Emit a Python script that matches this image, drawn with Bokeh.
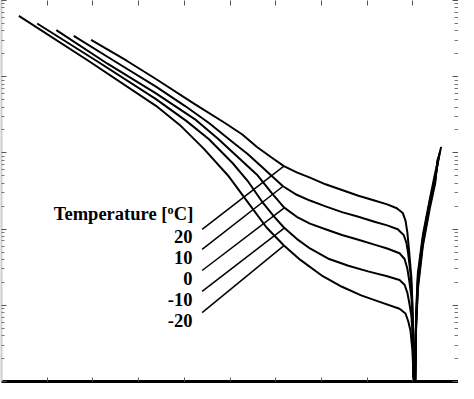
from bokeh.plotting import figure
from bokeh.models import Range1d, LogAxis, LinearAxis, FixedTicker, Label
from bokeh.embed import file_html
from bokeh.resources import INLINE

# ---- data (x in axis units, y on log axis) ----
x_m20 = [0.38, 1.90, 3.38, 3.90, 4.43, 4.96, 5.38, 5.80, 6.18, 6.54, 7.03, 7.45, 7.87, 8.29, 8.71, 8.84, 8.90, 8.95, 8.99, 9.01, 9.03,
         9.07, 9.11, 9.22, 9.37, 9.49, 9.54]
y_m20 = [63000, 16200, 4150, 2330, 1130, 502, 230, 105, 60.8, 39.4, 24.1, 17.5, 13.5, 11.0, 9.02, 7.80, 6.18, 4.63, 2.60, 1.46, 0.1,
         4.5, 16, 60, 185, 400, 822]

x_m10 = [0.78, 2.11, 3.38, 4.05, 4.54, 5.06, 5.38, 5.70, 5.97, 6.18, 6.46, 6.75, 7.17, 7.59, 8.02, 8.44, 8.71, 8.82, 8.88, 8.92, 8.97, 8.99, 9.01, 9.03,
         9.07, 9.11, 9.22, 9.37, 9.49, 9.56]
y_m10 = [49900, 15700, 5080, 2610, 1510, 731, 434, 230, 145, 105, 74.5, 55.7, 40.5, 33.1, 27.9, 24.1, 21.5, 18.6, 14.7, 11.0, 7.15, 4.63, 2.25, 0.1,
         5, 18, 65, 200, 430, 896]

x_0 = [1.20, 2.32, 3.38, 4.26, 4.75, 5.27, 5.59, 5.91, 6.18, 6.46, 6.75, 7.09, 7.45, 7.81, 8.16, 8.44, 8.71, 8.82, 8.88, 8.92, 8.97, 8.99, 9.01, 9.03,
       9.07, 9.11, 9.22, 9.37, 9.49, 9.58]
y_0 = [40800, 14800, 6040, 2690, 1510, 775, 518, 298, 193, 145, 118, 99.4, 83.6, 72.3, 62.5, 55.7, 48.2, 40.5, 30.4, 21.5, 12.8, 7.15, 3.0, 0.1,
       5.5, 20, 70, 215, 460, 977]

x_10 = [1.58, 2.53, 3.38, 4.01, 4.54, 5.06, 5.38, 5.70, 5.95, 6.16, 6.46, 6.75, 7.09, 7.45, 7.81, 8.16, 8.44, 8.67, 8.80, 8.86, 8.90, 8.95, 8.97, 8.99, 9.01, 9.03,
        9.07, 9.11, 9.22, 9.37, 9.49, 9.60]
y_10 = [34300, 15250, 7400, 4150, 2470, 1383, 977, 652, 474, 365, 282, 237, 199, 167, 145, 125, 112, 99.4, 83.6, 66.4, 46.9, 26.3, 17.0, 9.55, 4.01, 0.1,
        6.18, 22.8, 76.6, 230, 488, 1070]

x_20 = [1.96, 2.74, 3.38, 4.22, 4.89, 5.27, 5.59, 5.91, 6.18, 6.46, 6.75, 7.09, 7.45, 7.81, 8.16, 8.44, 8.65, 8.78, 8.84, 8.88, 8.92, 8.97, 8.99, 9.01, 9.03,
        9.07, 9.11, 9.22, 9.37, 9.49, 9.62]
y_20 = [30500, 16200, 9330, 4400, 2470, 1742, 1197, 871, 671, 556, 474, 387, 326, 274, 237, 211, 188, 163, 129, 91.2, 51.2, 22.8, 11.0, 4.01, 0.1,
        7.15, 26.3, 83.6, 244, 548, 1200]

temp_labels = ["20", "10", "0", "-10", "-20"]
label_y = [78.9, 43.0, 22.8, 12.0, 6.36]
leader_y0 = [99.3, 54.2, 28.6, 15.2, 8.03]
leader_x1 = [6.18, 6.16, 6.18, 6.18, 6.18]
leader_y1 = [671, 365, 188, 102, 60.8]

x_ticks = [0, 1, 2, 3, 4, 5, 6, 7, 8, 9, 10]
y_ticks = [1, 10, 100, 1000, 10000, 100000]
y_minor = [k * 10 ** n for n in range(0, 5) for k in range(2, 10)]

# ---- figure ----
p = figure(width=458, height=383, x_range=Range1d(0, 10), y_range=Range1d(1, 1e5),
           y_axis_type="log", output_backend="svg", toolbar_location=None,
           min_border=0, min_border_left=1, min_border_bottom=2,
           outline_line_color=None, background_fill_color="white",
           border_fill_color="white")
p.xgrid.visible = False
p.ygrid.visible = False

def style_axis(ax, line_color=None, line_width=1, tick_in=5, minor_in=3):
    ax.axis_line_color = line_color
    ax.axis_line_width = line_width
    ax.major_tick_in = tick_in
    ax.major_tick_out = 0
    ax.minor_tick_in = minor_in
    ax.minor_tick_out = 0
    ax.major_tick_line_color = "#555555"
    ax.minor_tick_line_color = "#777777"
    ax.major_label_text_font_size = "1px"
    ax.major_label_text_color = None
    ax.major_label_standoff = 0
    ax.axis_label = None

xb = p.xaxis[0]
xb.ticker = FixedTicker(ticks=x_ticks)
style_axis(xb, "black", 3, 4, 0)
xb.minor_tick_line_color = None

yl = p.yaxis[0]
yl.ticker = FixedTicker(ticks=y_ticks, minor_ticks=y_minor)
style_axis(yl, "#cccccc", 2, 5, 3)

xt = LinearAxis(ticker=FixedTicker(ticks=x_ticks))
style_axis(xt, None, 1, 5, 0)
xt.minor_tick_line_color = None
p.add_layout(xt, "above")

yr = LogAxis(ticker=FixedTicker(ticks=y_ticks, minor_ticks=y_minor))
style_axis(yr, None, 1, 6, 4)
p.add_layout(yr, "right")

for xs, ys in [(x_m20, y_m20), (x_m10, y_m10), (x_0, y_0), (x_10, y_10), (x_20, y_20)]:
    p.line(xs, ys, line_color="black", line_width=2, line_join="round")

p.segment(x0=[4.39] * 5, y0=leader_y0, x1=leader_x1, y1=leader_y1,
          line_color="black", line_width=1.5)

font = "Liberation Serif"
for t, yv in zip(temp_labels, label_y):
    p.add_layout(Label(x=4.18, y=yv, text=t, text_align="right", text_baseline="alphabetic",
                       text_font=font, text_font_style="bold", text_font_size="18.5px",
                       text_color="black"))

p.add_layout(Label(x=3.63, y=158, text="Temperature [", text_align="right",
                   text_baseline="alphabetic", text_font=font, text_font_style="bold",
                   text_font_size="18.5px", text_color="black"))
p.add_layout(Label(x=3.70, y=177, text="o", text_align="center",
                   text_baseline="alphabetic", text_font=font, text_font_style="bold",
                   text_font_size="12px", text_color="black"))
p.add_layout(Label(x=3.77, y=158, text="C]", text_align="left",
                   text_baseline="alphabetic", text_font=font, text_font_style="bold",
                   text_font_size="18.5px", text_color="black"))

open("out.html", "w").write(file_html(p, INLINE))
